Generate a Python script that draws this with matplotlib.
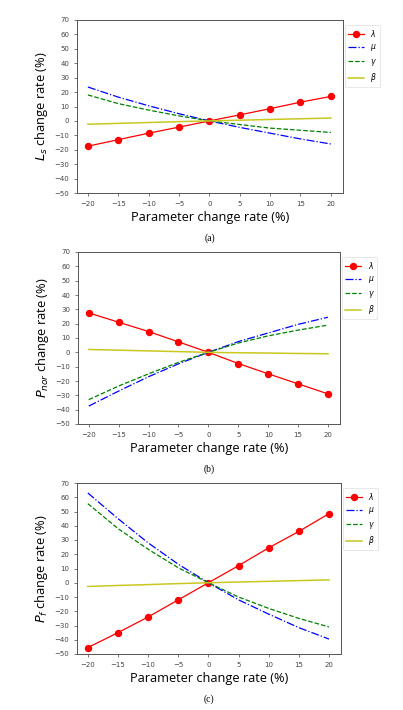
import matplotlib
matplotlib.use("Agg")
import matplotlib.pyplot as plt

# x values: parameter change rate (%)
x = [-20, -15, -10, -5, 0, 5, 10, 15, 20]

# (a) Ls change rate
ls_lam = [-17.5, -13, -8.5, -4.3, 0, 4.2, 8.5, 13, 17]
ls_mu = [23.5, 16.5, 10.5, 5, 0, -4.5, -8.5, -12.5, -16]
ls_gam = [18, 12, 7.5, 3.5, 0, -2.5, -5, -6.5, -8]
ls_beta = [-2.3, -1.7, -1.1, -0.5, 0, 0.5, 1, 1.5, 2]

# (b) Pnor change rate
pn_lam = [27.5, 21, 14.5, 7.3, 0, -7.8, -15, -22, -29]
pn_mu = [-37.5, -27, -17, -8, 0, 7.5, 13.5, 19.5, 24.5]
pn_gam = [-33, -23.5, -15, -7, 0, 6.5, 11.5, 15.5, 19]
pn_beta = [2, 1.5, 1, 0.5, 0, -0.3, -0.5, -0.8, -1]

# (c) Pf change rate
pf_lam = [-45.5, -35, -24, -12, 0, 12, 24.5, 36, 48.5]
pf_mu = [63, 45, 28, 13, 0, -12, -22, -31.5, -39.5]
pf_gam = [55.5, 38, 23.5, 10.5, 0, -10, -18, -25, -31]
pf_beta = [-2.6, -1.9, -1.3, -0.6, 0, 0.5, 1, 1.5, 2]

panels = [
    (r"$L_s$ change rate (%)", ls_lam, ls_mu, ls_gam, ls_beta, "(a)"),
    (r"$P_{nor}$ change rate (%)", pn_lam, pn_mu, pn_gam, pn_beta, "(b)"),
    (r"$P_f$ change rate (%)", pf_lam, pf_mu, pf_gam, pf_beta, "(c)"),
]

# axes boxes in pixels: left, top, right, bottom
boxes = [(77, 20, 343, 193), (78, 252, 340, 424), (77, 483, 341, 654)]

W, H = 403, 710
fig = plt.figure(figsize=(W / 100, H / 100), dpi=100)

for (ylab, lam, mu, gam, beta, cap), (l, t, r, b) in zip(panels, boxes):
    ax = fig.add_axes([l / W, 1 - b / H, (r - l) / W, (b - t) / H])
    ax.plot(x, lam, "-", color="red", marker="o", markersize=4.3, lw=0.9, label=r"$\lambda$")
    ax.plot(x, mu, "-.", color="blue", lw=0.9, label=r"$\mu$")
    ax.plot(x, gam, "--", color="green", lw=0.9, label=r"$\gamma$")
    ax.plot(x, beta, "-", color="#c8c820", lw=1.1, label=r"$\beta$")
    ax.set_ylim(-50, 70)
    ax.set_yticks(range(-50, 71, 10))
    ax.set_xticks(x)
    ax.set_xlim(-21.8, 22)
    ax.tick_params(labelsize=5, colors="#444444", length=2, width=0.5)
    for s in ax.spines.values():
        s.set_linewidth(0.7)
        s.set_color("#555555")
    ax.set_xlabel("Parameter change rate (%)", fontsize=9.2, family="Open Sans", labelpad=3)
    ax.set_ylabel(ylab, fontsize=9.3, family="Open Sans", labelpad=3)
    leg = ax.legend(loc="upper left", bbox_to_anchor=(1.0, 0.98), fontsize=5.5,
                    borderaxespad=0.2, handlelength=2.1, labelspacing=0.45,
                    handletextpad=0.9, frameon=True)
    leg.get_frame().set_linewidth(0.4)
    fig.text((l + r) / 2 / W, 1 - (b + 45) / H, cap, ha="center", va="center",
             fontsize=7, family="Liberation Serif")

fig.savefig("out.png", dpi=100, facecolor="white")
